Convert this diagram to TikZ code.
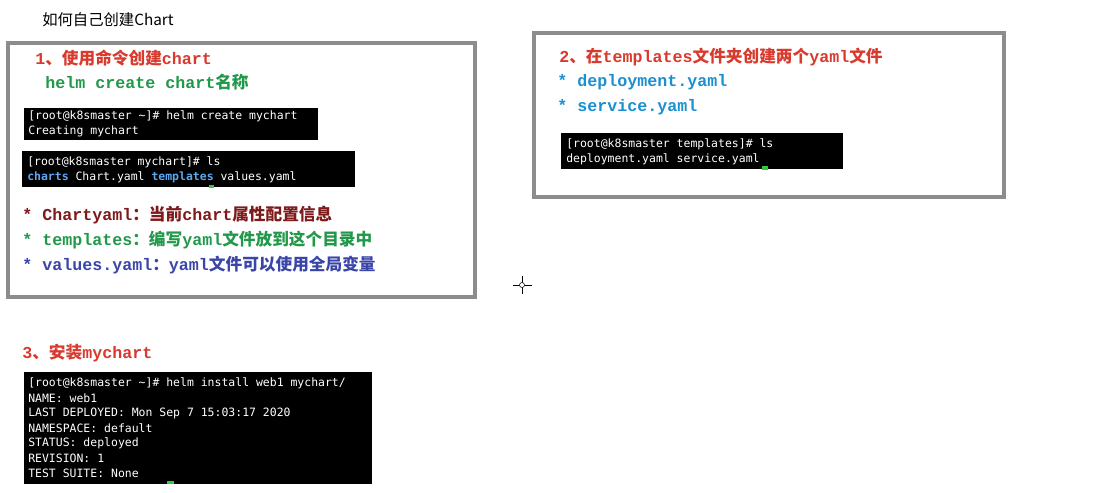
\documentclass[tikz,border=0pt]{standalone}
\usepackage{fontspec}
\setmainfont{Liberation Mono}
\newfontfamily\cjk{Noto Sans CJK SC}
\newfontfamily\term{DejaVu Sans Mono}
\definecolor{hred}{HTML}{D93A2E}
\definecolor{hgreen}{HTML}{22994A}
\definecolor{dred}{HTML}{7F1A1A}
\definecolor{vblue}{HTML}{3A45A8}
\definecolor{cblue}{HTML}{1C8FD0}
\definecolor{tblue}{HTML}{5CA8F0}
\definecolor{cur}{HTML}{2FCB3A}
\begin{document}
\begin{tikzpicture}[x=0.75pt,y=-0.75pt,
  frame/.style={draw=gray!90,line width=3pt,fill=white},
  termbox/.style={fill=black},
  tline/.style={anchor=west,inner sep=0pt,text=white,font=\term\fontsize{8.6}{10}\selectfont},
  head/.style={anchor=west,inner sep=0pt,font=\bfseries\fontsize{12.5}{14}\selectfont},
  cursor/.style={fill=cur}]
\useasboundingbox (0,0) rectangle (1098,492);
\fill[white] (0,0) rectangle (1098,492);
\node[anchor=west,inner sep=0pt,font=\cjk\fontsize{11.5}{13}\selectfont] (title) at (42,20) {如何自己创建Chart};
% box 1
\draw[frame] (8,43) rectangle (475,297);
\node[head,text=hred] (h1) at (35,58) {1{\cjk 、使用命令创建}chart};
\node[head,text=hgreen] (h1b) at (45,82) {helm create chart{\cjk 名称}};
\fill[termbox] (24,108) rectangle (318,140);
\node[tline] (t1a) at (28,116) {[root@k8smaster \textasciitilde]\# helm create mychart};
\node[tline] (t1b) at (28,131) {Creating mychart};
\fill[termbox] (22,151) rectangle (355,187);
\node[tline] (t2a) at (27,162) {[root@k8smaster mychart]\# ls};
\node[tline] (t2b) at (27,177) {\textcolor{tblue}{\bfseries charts}  Chart.yaml  \textcolor{tblue}{\bfseries templates}  values.yaml};
\fill[cursor] (209,185) rectangle (214,188);
\node[head,text=dred] (b1) at (22,215) {* Chartyaml{\cjk ：当前}chart{\cjk 属性配置信息}};
\node[head,text=hgreen] (b2) at (22,240) {* templates{\cjk ：编写}yaml{\cjk 文件放到这个目录中}};
\node[head,text=vblue] (b3) at (22,265) {* values.yaml{\cjk ：}yaml{\cjk 文件可以使用全局变量}};
% box 2
\draw[frame] (534,33) rectangle (1004,197);
\node[head,text=hred] (h2) at (559,57) {2{\cjk 、在}templates{\cjk 文件夹创建两个}yaml{\cjk 文件}};
\node[head,text=cblue] (c1) at (557,82) {* deployment.yaml};
\node[head,text=cblue] (c2) at (557,107) {* service.yaml};
\fill[termbox] (561,133) rectangle (843,169);
\node[tline] (t3a) at (566,144) {[root@k8smaster templates]\# ls};
\node[tline] (t3b) at (566,159) {deployment.yaml  service.yaml};
\fill[cursor] (762,166) rectangle (768,170);
% crosshair
\draw[black] (513,285) -- (532,285) (522,276) -- (522,294);
\draw[black,fill=white] (522,285) circle (2.5);
% section 3
\node[head,text=hred] (h3) at (22,353) {3{\cjk 、安装}mychart};
\fill[termbox] (24,372) rectangle (372,484);
\node[tline] (t4a) at (28,383) {[root@k8smaster \textasciitilde]\# helm install web1 mychart/};
\node[tline] (t4b) at (28,398) {NAME: web1};
\node[tline] (t4c) at (28,413) {LAST DEPLOYED: Mon Sep  7 15:03:17 2020};
\node[tline] (t4d) at (28,428) {NAMESPACE: default};
\node[tline] (t4e) at (28,443) {STATUS: deployed};
\node[tline] (t4f) at (28,458) {REVISION: 1};
\node[tline] (t4g) at (28,473) {TEST SUITE: None};
\fill[cursor] (167,481) rectangle (174,484);
\end{tikzpicture}
\end{document}
